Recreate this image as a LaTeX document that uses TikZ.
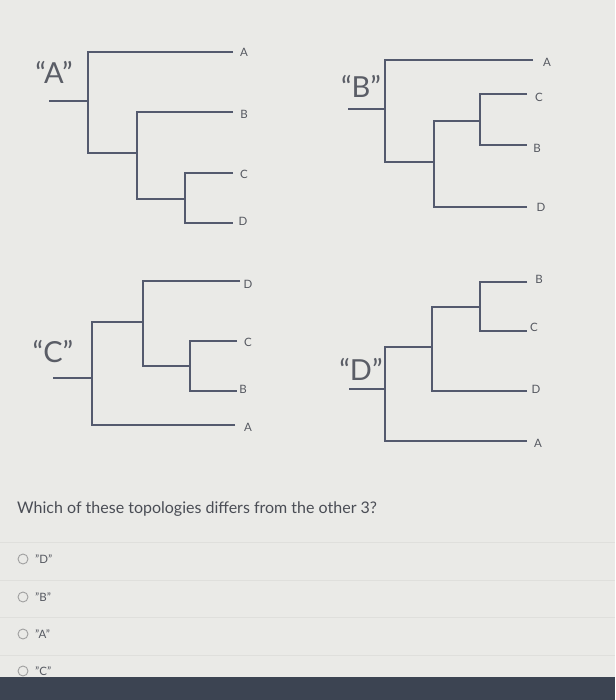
\documentclass[tikz,border=0pt]{standalone}
\usepackage{fontspec}
\setmainfont{Lato}
\begin{document}
\begin{tikzpicture}[x=1pt,y=-1pt,
  tree/.style={draw=treecol,line width=1.8pt,line join=miter},
  leaf/.style={text=labcol,font=\fontsize{11.5}{13}\selectfont,inner sep=0pt},
  title/.style={text=titcol,font=\fontsize{29}{32}\selectfont,inner sep=0pt},
  ring/.style={draw=ringcol,line width=0.9pt,fill=bgcol},
  opt/.style={text=labcol,font=\fontsize{11.5}{13}\selectfont,inner sep=0pt,anchor=west},
  sep/.style={draw=sepcol,line width=0.8pt}]
\definecolor{bgcol}{HTML}{EAEAE7}
\definecolor{treecol}{HTML}{545A6E}
\definecolor{labcol}{HTML}{555860}
\definecolor{titcol}{HTML}{5A5D66}
\definecolor{ringcol}{HTML}{A0A0A0}
\definecolor{sepcol}{HTML}{DFDFDC}
\definecolor{barcol}{HTML}{3C4452}
\definecolor{qcol}{HTML}{4A4D55}
\useasboundingbox (0,0) rectangle (615,700);
\fill[bgcol] (0,0) rectangle (615,700);

% ---------- Tree "A" ----------
\node[title] (tA) at (54,72) {“A”};
\coordinate (aS) at (49,101);
\coordinate (aR) at (88,101);
\coordinate (aRt) at (88,52);  \coordinate (aRb) at (88,153);
\coordinate (aN1t) at (137,112); \coordinate (aN1b) at (137,199);
\coordinate (aN2t) at (185,173); \coordinate (aN2b) at (185,223);
\coordinate (aTA) at (233,52); \coordinate (aTB) at (233,112);
\coordinate (aTC) at (233,173); \coordinate (aTD) at (233,223);
\draw[tree] (aS) -- (aR);
\draw[tree] (aTA) -- (aRt) -- (aRb) -- (aN1b |- aRb);
\draw[tree] (aTB) -- (aN1t) -- (aN1b) -- (aN2b |- aN1b);
\draw[tree] (aTC) -- (aN2t) -- (aN2b) -- (aTD);
\node[leaf] (aLA) at (244,52) {A};
\node[leaf] (aLB) at (244,114) {B};
\node[leaf] (aLC) at (244,174) {C};
\node[leaf] (aLD) at (243,221) {D};

% ---------- Tree "B" ----------
\node[title] (tB) at (361,86) {“B”};
\coordinate (bS) at (348,109);
\coordinate (bR) at (385,109);
\coordinate (bRt) at (385,60);  \coordinate (bRb) at (385,162);
\coordinate (bN1t) at (434,121); \coordinate (bN1b) at (434,207);
\coordinate (bN2t) at (480,94); \coordinate (bN2b) at (480,145);
\coordinate (bTA) at (533,60); \coordinate (bTC) at (527,94);
\coordinate (bTB) at (527,145); \coordinate (bTD) at (527,207);
\draw[tree] (bS) -- (bR);
\draw[tree] (bTA) -- (bRt) -- (bRb) -- (bN1b |- bRb);
\draw[tree] (bTD) -- (bN1b) -- (bN1t) -- (bN2t |- bN1t);
\draw[tree] (bTC) -- (bN2t) -- (bN2b) -- (bTB);
\node[leaf] (bLA) at (547,62) {A};
\node[leaf] (bLC) at (539,97) {C};
\node[leaf] (bLB) at (537,148) {B};
\node[leaf] (bLD) at (541,207) {D};

% ---------- Tree "C" ----------
\node[title] (tC) at (53,352) {“C”};
\coordinate (cS) at (53,378);
\coordinate (cR) at (92,378);
\coordinate (cRt) at (92,322);  \coordinate (cRb) at (92,425);
\coordinate (cN1t) at (143,281); \coordinate (cN1b) at (143,366);
\coordinate (cN2t) at (190,341); \coordinate (cN2b) at (190,391);
\coordinate (cTD) at (240,281); \coordinate (cTC) at (237,341);
\coordinate (cTB) at (237,391); \coordinate (cTA) at (235,425);
\draw[tree] (cS) -- (cR);
\draw[tree] (cTA) -- (cRb) -- (cRt) -- (cN1t |- cRt);
\draw[tree] (cTD) -- (cN1t) -- (cN1b) -- (cN2b |- cN1b);
\draw[tree] (cTC) -- (cN2t) -- (cN2b) -- (cTB);
\node[leaf] (cLD) at (248,284) {D};
\node[leaf] (cLC) at (248,342) {C};
\node[leaf] (cLB) at (243,389) {B};
\node[leaf] (cLA) at (248,427) {A};

% ---------- Tree "D" ----------
\node[title] (tD) at (361,369) {“D”};
\coordinate (dS) at (349,389);
\coordinate (dR) at (385,389);
\coordinate (dRt) at (385,347);  \coordinate (dRb) at (385,441);
\coordinate (dN1t) at (432,307); \coordinate (dN1b) at (432,391);
\coordinate (dN2t) at (480,282); \coordinate (dN2b) at (480,331);
\coordinate (dTB) at (527,282); \coordinate (dTC) at (527,331);
\coordinate (dTD) at (527,391); \coordinate (dTA) at (527,441);
\draw[tree] (dS) -- (dR);
\draw[tree] (dTA) -- (dRb) -- (dRt) -- (dN1t |- dRt);
\draw[tree] (dTD) -- (dN1b) -- (dN1t) -- (dN2t |- dN1t);
\draw[tree] (dTB) -- (dN2t) -- (dN2b) -- (dTC);
\node[leaf] (dLB) at (539,279) {B};
\node[leaf] (dLC) at (534,327) {C};
\node[leaf] (dLD) at (536,389) {D};
\node[leaf] (dLA) at (538,443) {A};

% ---------- Question ----------
\node[text=qcol,font=\fontsize{16}{19}\selectfont,inner sep=0pt,anchor=west] (q) at (17,509)
  {Which of these topologies differs from the other 3?};

\draw[sep] (0,542) -- (615,542);
\draw[sep] (0,580) -- (615,580);
\draw[sep] (0,617) -- (615,617);
\draw[sep] (0,655) -- (615,655);

\draw[ring] (23,559) circle (5);
\node[opt] (o1) at (35,559) {"D"};
\draw[ring] (23,597) circle (5);
\node[opt] (o2) at (35,597) {"B"};
\draw[ring] (23,634) circle (5);
\node[opt] (o3) at (35,634) {"A"};
\draw[ring] (23,671) circle (5);
\node[opt] (o4) at (35,671) {"C"};

\fill[barcol] (0,677) rectangle (615,700);
\end{tikzpicture}
\end{document}
